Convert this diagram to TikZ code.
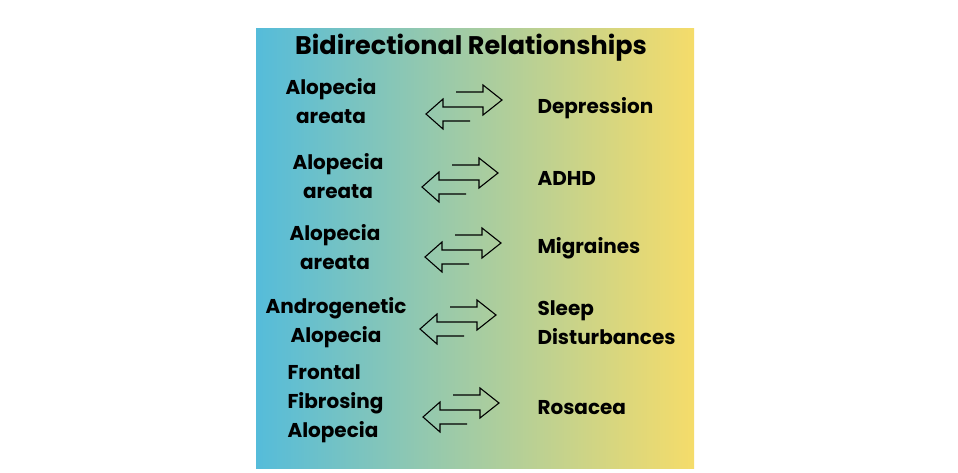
\documentclass[tikz,border=0pt]{standalone}
\usepackage{fontspec}
\setmainfont{Poppins}[BoldFont=* Bold]
\definecolor{lc}{HTML}{55BCDA}
\definecolor{rc}{HTML}{F5DC6A}
\begin{document}
\begin{tikzpicture}[x=1pt,y=-1pt,
  lbl/.style={font=\bfseries\fontsize{20}{29}\selectfont,align=center,text=black},
  rlbl/.style={font=\bfseries\fontsize{20}{29}\selectfont,align=left,anchor=west,text=black},
  dbl/.pic={\draw[line width=1.1pt,line join=miter] (-8,-15)--(19,-15)--(19,-22)--(38,-7)--(19,8)--(19,0)--(-21,0)--(-21,-8)--(-38,7)--(-21,22)--(-21,14)--(6,14);}]
\useasboundingbox (0,0) rectangle (958,472);
\fill[white] (0,0) rectangle (958,472);
\shade[left color=lc,right color=rc] (256,28) rectangle (694,468);
\node[font=\bfseries\fontsize{25.5}{28}\selectfont] (t) at (471,48) {Bidirectional Relationships};
\node[lbl] (a1) at (331,101) {Alopecia\\areata};
\node[lbl] (a2) at (338,176) {Alopecia\\areata};
\node[lbl] (a3) at (335,247) {Alopecia\\areata};
\node[lbl] (a4) at (336,323) {Androgenetic\\Alopecia};
\node[lbl,align=left,anchor=west] (a5) at (284,404) {Frontal\\Fibrosing\\Alopecia};
\node[rlbl] (b1) at (534,108) {Depression};
\node[rlbl] (b2) at (534,178) {ADHD};
\node[rlbl] (b3) at (534,248) {Migraines};
\node[rlbl] (b4) at (534,323) {Sleep\\Disturbances};
\node[rlbl] (b5) at (534,408) {Rosacea};
\pic at (464,107) {dbl};
\pic at (460,180) {dbl};
\pic at (463,250) {dbl};
\pic at (458,322) {dbl};
\pic at (461,410) {dbl};
\end{tikzpicture}
\end{document}
